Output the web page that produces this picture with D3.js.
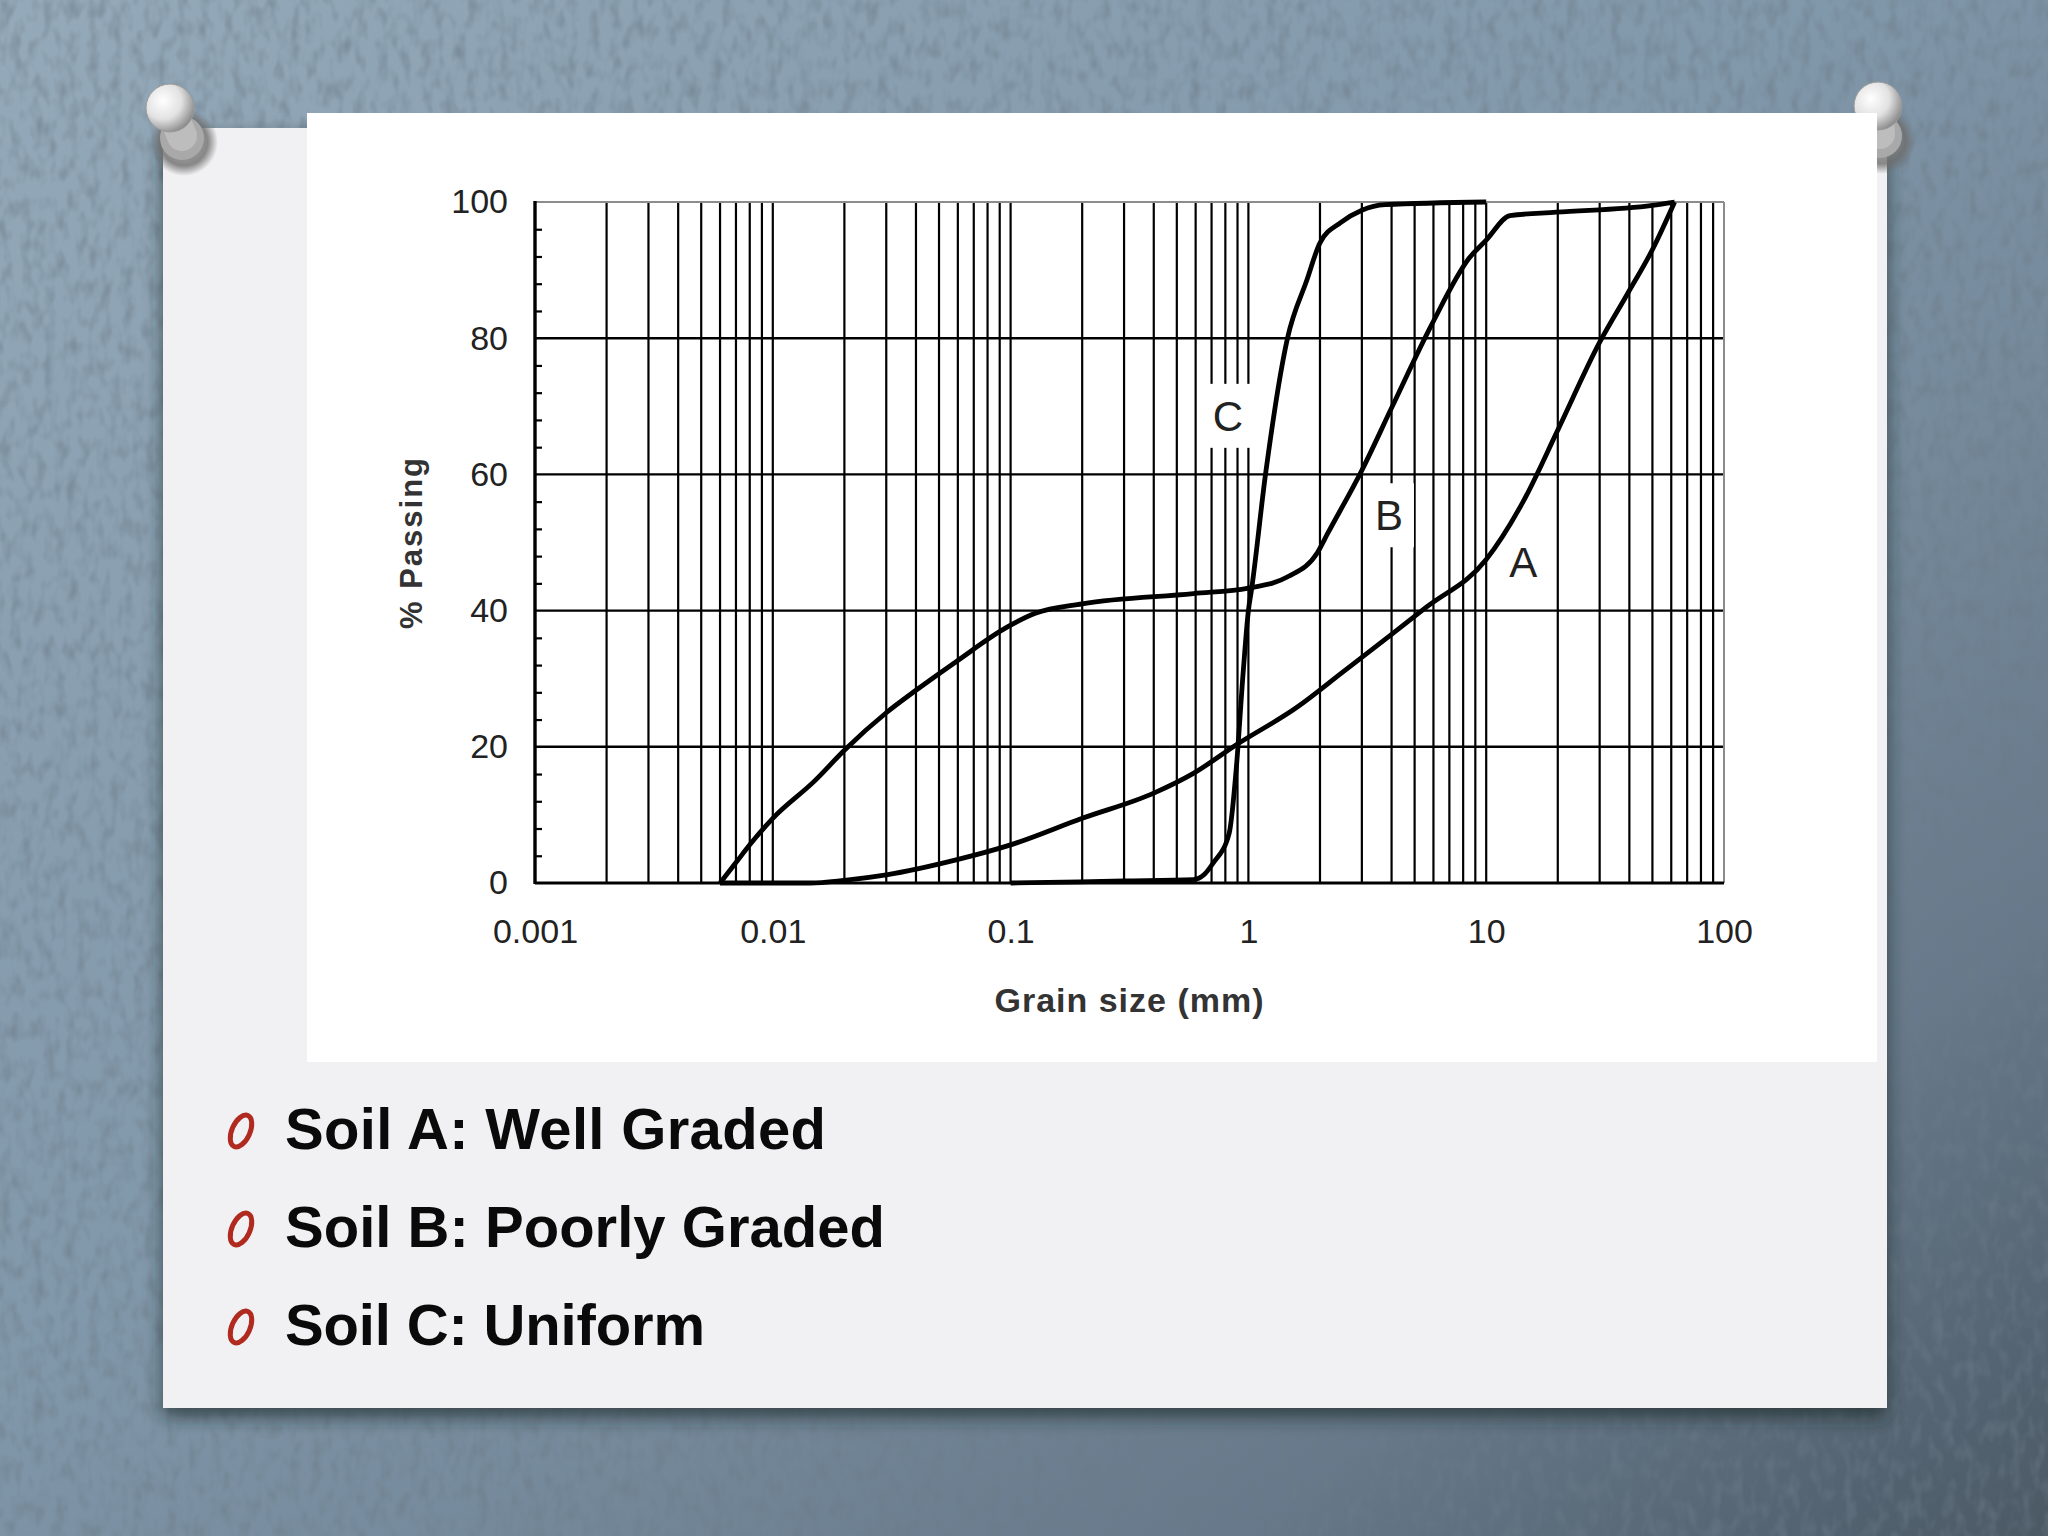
<!DOCTYPE html>
<html>
<head>
<meta charset="utf-8">
<script src="https://cdn.jsdelivr.net/npm/d3@7"></script>
<style>
  body { margin: 0; overflow: hidden; background: #7f95a6; }
</style>
</head>
<body>
<script>
var width = 2048;
var height = 1536;

// grain size (mm) / percent passing
var sizeA = [0.006, 0.0144, 0.02, 0.03, 0.059, 0.1, 0.2, 0.4, 0.587, 0.89, 1.6, 2.5, 4, 5.6, 10, 14.3, 20, 29.9, 39.4, 50, 62];
var passA = [0, 0, 0.4, 1.2, 3.4, 5.6, 9.5, 13.2, 16.1, 20.3, 25.8, 31, 36.5, 40.5, 47.5, 56, 66.5, 79.3, 86.6, 93, 100];

var sizeB = [0.006, 0.007, 0.008, 0.01, 0.015, 0.02, 0.03, 0.04, 0.059, 0.097, 0.127, 0.2, 0.587, 1.0, 1.47, 1.95, 2.16, 3.0, 4.03, 5.9, 8.5, 10, 12.6, 19.7, 50, 62];
var passB = [0, 3, 5.6, 9.5, 15, 19.5, 25, 28.3, 32.5, 37.6, 39.6, 41, 42.5, 43.3, 45, 48.5, 51.4, 60.6, 70, 82, 91.8, 94.4, 98, 98.5, 99.5, 100];

var sizeC = [0.1, 0.3, 0.587, 0.65, 0.71, 0.83, 0.89, 0.95, 1.0, 1.03, 1.18, 1.46, 1.76, 2.0, 2.45, 3.0, 3.76, 10];
var passC = [0, 0.3, 0.5, 1.2, 2.9, 7.3, 17, 30.8, 40, 43, 60, 80, 88.5, 94, 97, 98.8, 99.6, 100];

var yTicks = [0, 20, 40, 60, 80, 100];
var xTicks = [0.001, 0.01, 0.1, 1, 10, 100];
var xTickLabels = ["0.001", "0.01", "0.1", "1", "10", "100"];

var curveNames = ["C", "B", "A"];
var labelSize = [0.82, 3.9, 14.3];
var labelPass = [68.6, 54, 47.1];

var bullets = ["Soil A: Well Graded", "Soil B: Poorly Graded", "Soil C: Uniform"];
var bulletWidths = [541, 600, 420];

var svg = d3.select("body").append("svg")
            .attr("width", width)
            .attr("height", height);

var defs = svg.append("defs");

var bg = defs.append("linearGradient").attr("id", "bg")
             .attr("x1", 0).attr("y1", 0).attr("x2", 1).attr("y2", 1);
bg.append("stop").attr("offset", "0%").attr("stop-color", "#94a9b9");
bg.append("stop").attr("offset", "45%").attr("stop-color", "#8198aa");
bg.append("stop").attr("offset", "80%").attr("stop-color", "#67798a");
bg.append("stop").attr("offset", "100%").attr("stop-color", "#4b5965");

var tex = defs.append("filter").attr("id", "tex")
              .attr("x", 0).attr("y", 0).attr("width", 1).attr("height", 1);
tex.append("feTurbulence").attr("type", "fractalNoise")
   .attr("baseFrequency", "0.09 0.05").attr("numOctaves", 2).attr("seed", 4);
tex.append("feColorMatrix").attr("type", "matrix")
   .attr("values", "0 0 0 0 0.15  0 0 0 0 0.2  0 0 0 0 0.25  0 0 0 -2.2 1.25");

var shadow = defs.append("filter").attr("id", "shadow")
                 .attr("x", "-5%").attr("y", "-5%").attr("width", "110%").attr("height", "115%");
shadow.append("feDropShadow").attr("dx", 0).attr("dy", 9).attr("stdDeviation", 9)
      .attr("flood-color", "#1d252c").attr("flood-opacity", 0.7);

var pinHead = defs.append("radialGradient").attr("id", "pinHead")
                  .attr("cx", "35%").attr("cy", "35%").attr("r", "70%");
pinHead.append("stop").attr("offset", "0%").attr("stop-color", "#ffffff");
pinHead.append("stop").attr("offset", "55%").attr("stop-color", "#e2e2e2");
pinHead.append("stop").attr("offset", "100%").attr("stop-color", "#8a8a8a");

var pinBase = defs.append("radialGradient").attr("id", "pinBase")
                  .attr("cx", "50%").attr("cy", "50%").attr("r", "50%");
pinBase.append("stop").attr("offset", "0%").attr("stop-color", "#9a9a9a");
pinBase.append("stop").attr("offset", "70%").attr("stop-color", "#6d6d6d");
pinBase.append("stop").attr("offset", "100%").attr("stop-color", "#6d6d6d").attr("stop-opacity", 0);

// slide background
svg.append("rect").attr("width", width).attr("height", height).attr("fill", "url(#bg)");
svg.append("rect").attr("width", width).attr("height", height).attr("filter", "url(#tex)").attr("opacity", 0.55);

// card
svg.append("rect")
   .attr("x", 163).attr("y", 128).attr("width", 1724).attr("height", 1280)
   .attr("fill", "#f1f1f3")
   .attr("filter", "url(#shadow)");

// pins
function pin(cx, cy, bx, by) {
  var p = svg.append("g");
  p.append("circle").attr("cx", bx).attr("cy", by).attr("r", 34).attr("fill", "url(#pinBase)").attr("opacity", 0.8);
  p.append("circle").attr("cx", bx - 2).attr("cy", by - 4).attr("r", 22).attr("fill", "#a9a9a9");
  p.append("line").attr("x1", cx).attr("y1", cy).attr("x2", bx - 2).attr("y2", by - 6)
   .attr("stroke", "#bdbdbd").attr("stroke-width", 30).attr("stroke-linecap", "round");
  p.append("circle").attr("cx", cx).attr("cy", cy).attr("r", 24).attr("fill", "url(#pinHead)")
   .attr("stroke", "#9a9a9a").attr("stroke-width", 1);
}
pin(170, 108, 184, 142);
pin(1878, 106, 1882, 140);

// chart picture
svg.append("rect")
   .attr("x", 307).attr("y", 113).attr("width", 1570).attr("height", 949)
   .attr("fill", "#ffffff");

var x = d3.scaleLog().domain([0.001, 100]).range([535, 1724]);
var y = d3.scaleLinear().domain([0, 100]).range([883, 202]);

var chart = svg.append("g").attr("class", "chart");

// vertical log grid
chart.append("g").attr("class", "xgrid")
     .selectAll("line")
     .data(x.ticks().filter(function(d) { return d > 0.001 && d < 100; }))
     .enter().append("line")
     .attr("x1", function(d) { return x(d); })
     .attr("x2", function(d) { return x(d); })
     .attr("y1", y(100)).attr("y2", y(0))
     .attr("stroke", "#000").attr("stroke-width", 2.2);

// horizontal grid
chart.append("g").attr("class", "ygrid")
     .selectAll("line")
     .data(yTicks.filter(function(d) { return d > 0 && d < 100; }))
     .enter().append("line")
     .attr("x1", x(0.001)).attr("x2", x(100))
     .attr("y1", function(d) { return y(d); })
     .attr("y2", function(d) { return y(d); })
     .attr("stroke", "#000").attr("stroke-width", 2.4);

// frame top / right (grey)
chart.append("line").attr("x1", x(0.001)).attr("x2", x(100)).attr("y1", y(100)).attr("y2", y(100))
     .attr("stroke", "#8c8c8c").attr("stroke-width", 2);
chart.append("line").attr("x1", x(100)).attr("x2", x(100)).attr("y1", y(100)).attr("y2", y(0))
     .attr("stroke", "#8c8c8c").attr("stroke-width", 2);

// curve labels with white knock-out boxes
var lab = chart.append("g").attr("class", "labels")
               .selectAll("g")
               .data(curveNames)
               .enter().append("g")
               .attr("transform", function(d, i) {
                 return "translate(" + x(labelSize[i]) + "," + y(labelPass[i]) + ")";
               });
lab.append("rect").attr("x", -25).attr("y", -32).attr("width", 50).attr("height", 64).attr("fill", "#fff");
lab.append("text")
   .attr("text-anchor", "middle")
   .attr("dy", "0.36em")
   .attr("font-family", "Liberation Sans, Arial, sans-serif")
   .attr("font-size", 42)
   .attr("fill", "#222")
   .text(function(d) { return d; });

// curves
var line = d3.line()
             .x(function(d) { return x(d[0]); })
             .y(function(d) { return y(d[1]); })
             .curve(d3.curveMonotoneX);

var series = [d3.zip(sizeA, passA), d3.zip(sizeB, passB), d3.zip(sizeC, passC)];
chart.append("g").attr("class", "curves")
     .selectAll("path")
     .data(series)
     .enter().append("path")
     .attr("d", line)
     .attr("fill", "none")
     .attr("stroke", "#000")
     .attr("stroke-width", 4.8)
     .attr("stroke-linejoin", "round");

// y axis: labels, minor inner ticks
var yAxis = d3.axisLeft(y).tickValues(yTicks).tickSize(0).tickPadding(27);
var gy = chart.append("g").attr("transform", "translate(" + x(0.001) + ",0)").call(yAxis);
gy.select(".domain").remove();
gy.selectAll("text")
  .attr("font-family", "Liberation Sans, Arial, sans-serif")
  .attr("font-size", 34).attr("fill", "#222");

var yMinor = d3.axisRight(y)
               .tickValues(d3.range(0, 101, 4).filter(function(d) { return d % 20 != 0; }))
               .tickSize(7).tickFormat("");
var gym = chart.append("g").attr("transform", "translate(" + x(0.001) + ",0)").call(yMinor);
gym.select(".domain").remove();
gym.selectAll("line").attr("stroke", "#000").attr("stroke-width", 2.2);

chart.append("line").attr("x1", x(0.001)).attr("x2", x(0.001)).attr("y1", y(100) - 1).attr("y2", y(0) + 1)
     .attr("stroke", "#000").attr("stroke-width", 3.4);

// x axis
var xAxis = d3.axisBottom(x).tickValues(xTicks).tickSize(0).tickPadding(36)
              .tickFormat(function(d, i) { return xTickLabels[i]; });
var gx = chart.append("g").attr("transform", "translate(0," + y(0) + ")").call(xAxis);
gx.select(".domain").remove();
gx.selectAll("text")
  .attr("font-family", "Liberation Sans, Arial, sans-serif")
  .attr("font-size", 34).attr("fill", "#222");

chart.append("line").attr("x1", x(0.001)).attr("x2", x(100)).attr("y1", y(0)).attr("y2", y(0))
     .attr("stroke", "#000").attr("stroke-width", 3);

// axis titles
chart.append("text")
     .attr("x", (x(0.001) + x(100)) / 2).attr("y", 1012)
     .attr("text-anchor", "middle")
     .attr("font-family", "Liberation Sans, Arial, sans-serif")
     .attr("font-size", 34).attr("font-weight", "bold")
     .attr("letter-spacing", 1)
     .attr("fill", "#333")
     .text("Grain size (mm)");

chart.append("text")
     .attr("transform", "translate(422," + (y(0) + y(100)) / 2 + ") rotate(-90)")
     .attr("text-anchor", "middle")
     .attr("font-family", "Liberation Sans, Arial, sans-serif")
     .attr("font-size", 31).attr("font-weight", "bold")
     .attr("letter-spacing", 2)
     .attr("fill", "#333")
     .text("% Passing");

// bullet list
var list = svg.append("g").attr("class", "bullets")
              .selectAll("g")
              .data(bullets)
              .enter().append("g")
              .attr("transform", function(d, i) { return "translate(0," + (1149 + i * 98) + ")"; });

list.append("ellipse")
    .attr("cx", 0).attr("cy", 0).attr("rx", 9).attr("ry", 17)
    .attr("transform", "translate(241,-18) rotate(24)")
    .attr("fill", "none").attr("stroke", "#b02a20").attr("stroke-width", 5);

list.append("text")
    .attr("x", 285).attr("y", 0)
    .attr("font-family", "Liberation Sans Narrow, Arial Narrow, Liberation Sans, sans-serif")
    .attr("font-size", 58).attr("font-weight", "bold")
    .attr("fill", "#0a0a0a")
    .attr("textLength", function(d, i) { return bulletWidths[i]; })
    .attr("lengthAdjust", "spacing")
    .text(function(d) { return d; });
</script>
</body>
</html>
